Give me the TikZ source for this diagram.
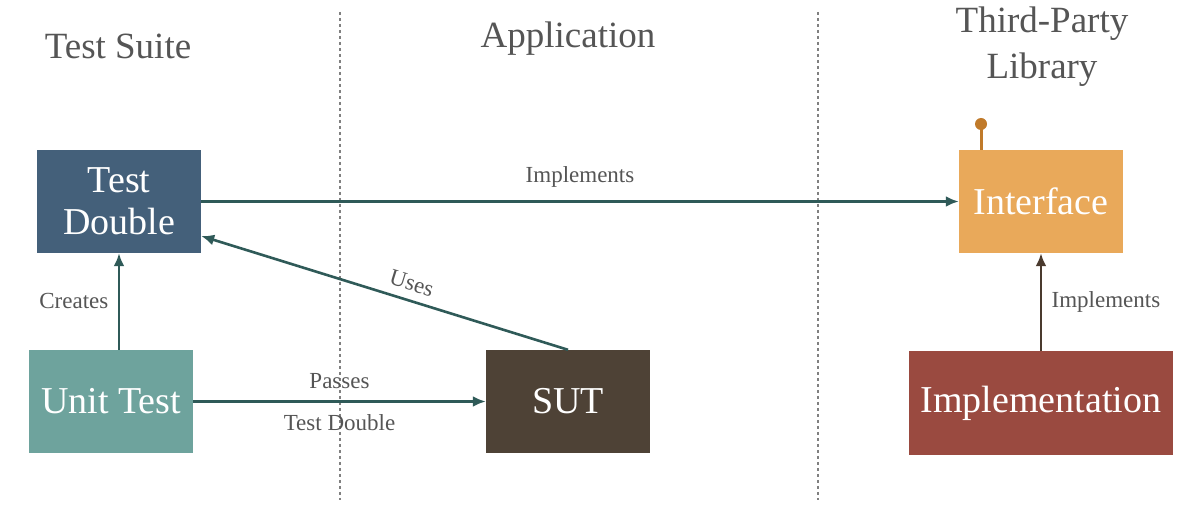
\documentclass[tikz,border=0pt]{standalone}
\usepackage{fontspec}
\setmainfont{Liberation Serif}
\usetikzlibrary{arrows.meta}
\definecolor{hdr}{HTML}{555555}
\definecolor{arr}{HTML}{2F5A58}
\definecolor{cTD}{HTML}{44607A}
\definecolor{cUT}{HTML}{6EA39D}
\definecolor{cSUT}{HTML}{4E4236}
\definecolor{cIF}{HTML}{E9A95A}
\definecolor{cIM}{HTML}{9A4A40}
\definecolor{cLP}{HTML}{C07A2A}
\definecolor{cIA}{HTML}{4A3A2E}
\begin{document}
\begin{tikzpicture}[x=1pt,y=-1pt,
 box/.style={minimum width=164pt,minimum height=103pt,inner sep=0pt,text=white,font=\fontsize{38}{42}\selectfont,align=center},
 hd/.style={text=hdr,font=\fontsize{37}{46}\selectfont,align=center},
 lb/.style={text=hdr,font=\fontsize{23}{24}\selectfont},
 ar/.style={draw=arr,line width=2.6pt,-{Latex[length=13pt,width=11pt]}}]
\useasboundingbox (0,0) rectangle (1200,518);
\fill[white] (0,0) rectangle (1200,518);
\draw[gray,dashed,line width=1.3pt] (340,12) -- (340,500);
\draw[gray,dashed,line width=1.3pt] (818,12) -- (818,500);
\node[hd] (h1) at (118,46) {Test Suite};
\node[hd] (h2) at (568,39) {Application};
\node[hd] (h3) at (1042,47) {Third-Party\\Library};
\node[box,fill=cTD] (td) at (119,201.5) {Test\\Double};
\node[box,fill=cUT] (ut) at (111,401.5) {Unit Test};
\node[box,fill=cSUT] (sut) at (568,401.5) {SUT};
\node[box,fill=cIF] (if) at (1041,201.5) {Interface};
\node[box,fill=cIM,minimum width=264pt,minimum height=104pt] (im) at (1041,403) {Implementation};
\coordinate (lp) at (981,124);
\draw[cLP,line width=3pt] (if.north west -| lp) -- (lp);
\fill[cLP] (lp) circle (6pt);
\draw[ar] (td.east) -- node[lb,above=9pt]{Implements} (if.west);
\draw[ar] (sut.north) -- node[lb,sloped,above=5pt,pos=0.44]{Uses} (td.east |- 0,236);
\draw[ar] (ut.north -| td) -- node[lb,left=6pt]{Creates} (td.south);
\draw[ar] (ut.east) -- node[lb,above=8pt]{Passes} node[lb,below=8pt]{Test Double} (sut.west);
\draw[draw=cIA,line width=2.6pt,-{Latex[length=13pt,width=11pt]}] (im.north) -- node[lb,right=6pt]{Implements} (if.south);
\end{tikzpicture}
\end{document}
